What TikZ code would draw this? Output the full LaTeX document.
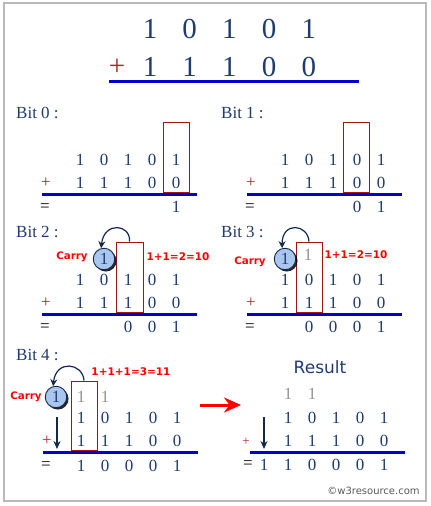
\documentclass[tikz,border=0pt]{standalone}
\usepackage{fontspec}
\setmainfont{Liberation Serif}
\newfontfamily\labelsans{DejaVu Sans}
\usetikzlibrary{arrows.meta, shadows}

\definecolor{digitblue}{HTML}{1F3B6F}
\definecolor{lineblue}{HTML}{0000CC}
\definecolor{boxred}{HTML}{A31515}
\definecolor{plusred}{HTML}{B22222}
\definecolor{carryfill}{HTML}{A9C7EE}
\definecolor{arrownavy}{HTML}{14284B}

\begin{document}
\begin{tikzpicture}[
    x=1pt, y=-1pt,
    dig/.style={text=digitblue, font=\fontsize{17}{17}\selectfont, inner sep=0pt},
    bigdig/.style={text=digitblue, font=\fontsize{29}{29}\selectfont, inner sep=0pt},
    carrydig/.style={dig, text=gray!85},
    plussign/.style={text=plusred, font=\fontsize{17}{17}\selectfont, inner sep=0pt},
    eqsign/.style={text=black, font=\fontsize{17}{17}\selectfont, inner sep=0pt},
    bitlabel/.style={text=digitblue, font=\fontsize{17}{17}\selectfont, anchor=west, inner sep=0pt},
    sumline/.style={draw=lineblue, line width=2.2pt},
    colbox/.style={draw=boxred, line width=0.9pt, minimum width=26pt, minimum height=70pt, inner sep=0pt},
    carrybubble/.style={circle, draw=arrownavy, line width=0.9pt, fill=carryfill, minimum size=21.5pt, inner sep=0pt,
      text=digitblue, font=\fontsize{17}{17}\selectfont,
      drop shadow={shadow xshift=1.8pt, shadow yshift=-1.8pt, opacity=0.85, fill=black}},
    carrytext/.style={text=red, font=\labelsans\bfseries\fontsize{10.3}{10.3}\selectfont, inner sep=0pt},
    sumtext/.style={text=red, font=\labelsans\bfseries\fontsize{10.5}{10.5}\selectfont, inner sep=0pt},
    carryarr/.style={-{Stealth[length=7pt, width=7pt]}, arrownavy, line width=1.2pt},
    downarr/.style={-{Stealth[length=8pt, width=7pt]}, arrownavy, line width=1.8pt}
  ]
  \useasboundingbox (0,0) rectangle (431,506);
  \draw[gray!55, line width=1.3pt] (4,3) rectangle (426,501);

  % the sum
  \foreach \d [count=\i] in {1,0,1,0,1}
    \node[bigdig] (ta\i) at ({150+39.7*(\i-1)},28.5) {\d};
  \foreach \d [count=\i] in {1,1,1,0,0}
    \node[bigdig] (tb\i) at ({150+39.7*(\i-1)},66.5) {\d};
  \node[plussign, font=\fontsize{29}{29}\selectfont] (tplus) at (117,67) {+};
  \draw[lineblue, line width=3pt] (109,81.7) -- (359,81.7);

  % operand rows of every step
  \foreach \p/\x/\y in {p0/80/160, p1/285/160, p2/80/280, p3/285/280, p4/81/418, pr/288/418} {
    \foreach \d [count=\i] in {1,0,1,0,1}
      \node[dig] (\p-a\i) at ({\x+24*(\i-1)},\y) {\d};
    \foreach \d [count=\i] in {1,1,1,0,0}
      \node[dig] (\p-b\i) at ({\x+24*(\i-1)},\y+22.5) {\d};
    \draw[sumline] (\x-38,\y+34.5) -- (\x+117,\y+34.5);
  }
  \foreach \p/\x/\y in {p0/80/160, p1/285/160, p2/80/280, p3/285/280, p4/81/418} {
    \node[plussign] (\p-plus) at (\x-34,\y+22.5) {+};
    \node[eqsign] (\p-eq) at (\x-35,\y+47.5) {=};
  }
  \node[plussign, font=\fontsize{13}{13}\selectfont] (pr-plus) at (246,442) {+};
  \node[eqsign] (pr-eq) at (248,465) {=};

  % partial results
  \node[dig] (p0-s5) at (176,207) {1};
  \foreach \d [count=\i from 4] in {0,1}
    \node[dig] (p1-s\i) at ({285+24*(\i-1)},207) {\d};
  \foreach \d [count=\i from 3] in {0,0,1}
    \node[dig] (p2-s\i) at ({80+24*(\i-1)},327) {\d};
  \foreach \d [count=\i from 2] in {0,0,0,1}
    \node[dig] (p3-s\i) at ({285+24*(\i-1)},327) {\d};
  \foreach \d [count=\i] in {1,0,0,0,1}
    \node[dig] (p4-s\i) at ({81+24*(\i-1)},466) {\d};
  \foreach \d [count=\i from 0] in {1,1,0,0,0,1}
    \node[dig] (pr-s\i) at ({288+24*(\i-1)},465) {\d};

  % step titles
  \node[bitlabel] (bit0) at (16,113) {Bit 0 :};
  \node[bitlabel] (bit1) at (221,113) {Bit 1 :};
  \node[bitlabel] (bit2) at (16,232) {Bit 2 :};
  \node[bitlabel] (bit3) at (221,232) {Bit 3 :};
  \node[bitlabel] (bit4) at (16,355) {Bit 4 :};

  % current column
  \node[colbox] (box0) at (176,157) {};
  \node[colbox] (box1) at (356,157) {};
  \node[colbox, minimum width=27pt] (box2) at (129.5,277) {};
  \node[colbox] (box3) at (309,277) {};
  \node[colbox, minimum height=69pt] (box4) at (84,415.5) {};

  % carries
  \node[carrybubble] (c2) at (104,259) {1};
  \node[carrytext] (c2lbl) at (72,257) {Carry};
  \node[sumtext] (c2sum) at (178,257) {1+1=2=10};
  \draw[carryarr] (box2.north) .. controls (131,224) and (104,221) .. (c2.105);

  \node[carrybubble] (c3) at (285,259) {1};
  \node[carrytext] (c3lbl) at (250,262) {Carry};
  \node[carrydig] (c3dig) at (308,255) {1};
  \node[sumtext] (c3sum) at (356,255) {1+1=2=10};
  \draw[carryarr] (box3.north) .. controls (308,224) and (282,221) .. (c3.105);

  \node[carrybubble] (c4) at (56,397) {1};
  \node[carrytext] (c4lbl) at (26,397) {Carry};
  \node[carrydig] (c4dig1) at (81,397) {1};
  \node[carrydig] (c4dig2) at (105,397) {1};
  \node[sumtext] (c4sum) at (131,372) {1+1+1=3=11};
  \draw[carryarr] (box4.north) .. controls (83,363) and (56,359) .. (c4.105);

  \coordinate (d4top) at (57,417);
  \coordinate (d4bot) at (57,449);
  \draw[downarr] (d4top) -- (d4bot);

  % result
  \coordinate (rstart) at (200,405);
  \coordinate (rend) at (241,405);
  \draw[-{Stealth[length=17pt, width=15pt]}, red, line width=3pt] (rstart) -- (rend);

  \node[text=digitblue, font=\labelsans\fontsize{17}{17}\selectfont] (result) at (320,367) {Result};
  \node[carrydig] (rdig1) at (288,394) {1};
  \node[carrydig] (rdig2) at (312,394) {1};
  \coordinate (drtop) at (264,417);
  \coordinate (drbot) at (264,449);
  \draw[downarr] (drtop) -- (drbot);

  \node[text=gray!70!black, font=\labelsans\fontsize{10}{10}\selectfont] (credit) at (373.5,491) {©w3resource.com};
\end{tikzpicture}
\end{document}
